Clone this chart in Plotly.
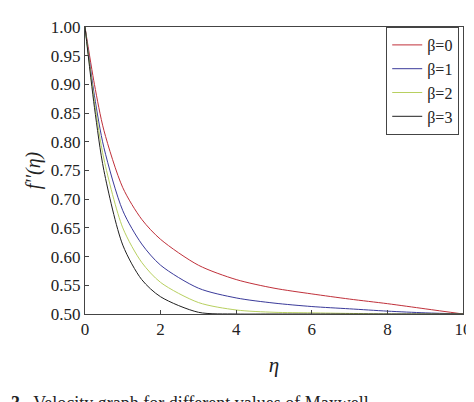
import plotly.graph_objects as go

eta = [0, 0.25, 0.5, 1, 1.5, 2, 3, 4, 5, 6, 7, 8, 9, 10]
f_b0 = [1.0, 0.90, 0.82, 0.72, 0.665, 0.63, 0.585, 0.56, 0.545, 0.535, 0.526, 0.518, 0.509, 0.50]
f_b1 = [1.0, 0.88, 0.79, 0.68, 0.622, 0.585, 0.545, 0.528, 0.519, 0.513, 0.509, 0.505, 0.502, 0.50]
f_b2 = [1.0, 0.87, 0.77, 0.65, 0.59, 0.555, 0.52, 0.507, 0.503, 0.502, 0.501, 0.50, 0.50, 0.50]
f_b3 = [1.0, 0.86, 0.75, 0.62, 0.56, 0.53, 0.503, 0.50, 0.50, 0.50, 0.50, 0.50, 0.50, 0.50]
names = ["β=0", "β=1", "β=2", "β=3"]
colors = ["#c0303a", "#3a3a9a", "#b8d060", "#202020"]

SERIF = "Liberation Serif, Times New Roman, serif"

fig = go.Figure()
for ys, name, c in zip([f_b0, f_b1, f_b2, f_b3], names, colors):
    fig.add_trace(go.Scatter(x=eta, y=ys, name=name, mode="lines",
                             line=dict(color=c, width=1, shape="spline", smoothing=0.8)))

axis_style = dict(showline=True, linecolor="#444", linewidth=1, mirror=True,
                  ticks="inside", ticklen=4, showgrid=False, zeroline=False,
                  tickfont=dict(family=SERIF, size=17, color="#222"))
fig.update_xaxes(range=[0, 10], dtick=2, title=dict(text="<i>η</i>", standoff=18,
                 font=dict(family=SERIF, size=21)), **axis_style)
fig.update_yaxes(range=[0.5, 1.0], dtick=0.05, tickformat=".2f",
                 title=dict(text="<i>f′′(η)</i>", standoff=4, font=dict(family=SERIF, size=20)),
                 **axis_style)
fig.update_layout(
    width=474, height=402, plot_bgcolor="white", paper_bgcolor="white",
    margin=dict(l=77, r=11, t=10, b=96),
    font=dict(family=SERIF, color="#222"),
    legend=dict(x=0.99, y=1.0, xanchor="right", yanchor="top", bgcolor="white",
                bordercolor="#444", borderwidth=1, font=dict(size=16, family=SERIF),
                tracegroupgap=0, itemwidth=30),
    showlegend=True,
)
fig.add_annotation(text="<b>3</b>   Velocity graph for different values of Maxwell",
                   xref="paper", yref="paper", x=-0.2, y=-0.27, xanchor="left", yanchor="top",
                   showarrow=False, font=dict(size=18, family=SERIF))
fig.write_html("out.html")
